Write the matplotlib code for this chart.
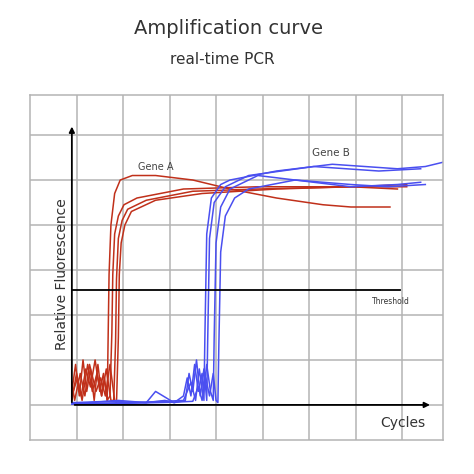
import matplotlib.pyplot as plt

# Gene A (rot) – Zyklus / Fluoreszenz
gene_a = [
    ([0, .4, .8, 1.2, 1.6, 2, 2.4, 2.8, 3.2, 3.5, 3.8, 3.9, 4.0, 4.2, 4.6, 5.2, 6.5, 9, 13, 17, 22, 27, 30, 34.2],
     [.3, .9, .2, 1.0, .3, .8, .1, .9, .2, .6, .1, 1.5, 2.9, 4.0, 4.7, 5.0, 5.1, 5.1, 5.0, 4.8, 4.6, 4.45, 4.4, 4.4]),
    ([0, .5, 1, 1.5, 2, 2.5, 3, 3.4, 3.8, 4.1, 4.3, 4.4, 4.6, 5.0, 5.6, 7, 12, 20, 30, 35],
     [.1, .7, .2, .8, .4, 1.0, .3, .7, .1, .2, 1.6, 2.9, 3.8, 4.2, 4.45, 4.6, 4.8, 4.85, 4.85, 4.8]),
    ([0, .6, 1.1, 1.7, 2.2, 2.7, 3.2, 3.7, 4.2, 4.5, 4.7, 4.8, 5.0, 5.4, 6.0, 8, 13, 20, 30, 36],
     [.2, .6, .1, .9, .3, .7, .2, .8, .1, .1, 1.4, 2.8, 3.7, 4.1, 4.35, 4.55, 4.75, 4.8, 4.85, 4.85]),
    ([0, .3, .9, 1.4, 1.9, 2.6, 3.1, 3.6, 4.1, 4.6, 4.8, 5.0, 5.1, 5.3, 5.7, 6.4, 9, 14, 22, 30, 36],
     [.5, .1, .7, .2, .9, .3, .6, .2, .9, .1, .05, 1.5, 2.9, 3.6, 4.0, 4.3, 4.55, 4.7, 4.8, 4.85, 4.9]),
]

# Gene B (blau)
gene_b = [
    ([0, 4, 8, 10, 11, 12, 12.4, 12.8, 13.2, 13.6, 14.0, 14.2, 14.3, 14.5, 15, 16, 17, 22, 28, 35, 38, 40],
     [.05, .08, .05, .1, .05, .2, .6, .2, .9, .3, .7, .1, 1.5, 3.8, 4.6, 4.9, 5.0, 5.2, 5.35, 5.25, 5.3, 5.4]),
    ([0, 5, 8, 9, 11, 12.2, 12.6, 13, 13.4, 13.8, 14.2, 14.5, 14.6, 14.8, 15.3, 16.5, 19, 26, 33, 37.5],
     [.02, .1, .05, .3, .05, .1, .7, .3, 1.0, .2, .8, .1, 1.4, 3.7, 4.5, 4.85, 5.1, 5.3, 5.2, 5.25]),
    ([0, 6, 10, 12, 12.8, 13.3, 13.7, 14.1, 14.5, 14.9, 15.2, 15.3, 15.5, 16, 17, 20, 26, 30, 35, 37.5],
     [.03, .05, .08, .1, .5, .1, .8, .2, .9, .3, .1, 1.5, 3.6, 4.4, 4.8, 5.1, 4.95, 4.85, 4.9, 4.95]),
    ([0, 7, 11, 13, 13.6, 14.0, 14.4, 14.8, 15.2, 15.5, 15.7, 15.8, 16.0, 16.5, 17.5, 19, 24, 30, 34, 38],
     [.02, .04, .06, .08, .4, .1, .6, .2, .7, .1, .05, 1.3, 3.4, 4.2, 4.6, 4.8, 5.0, 4.9, 4.85, 4.9]),
]

threshold = 2.56

fig = plt.figure(figsize=(4.74, 4.74), dpi=100)
ax = fig.add_axes([30 / 474, 34 / 474, 413 / 474, 345 / 474])
ax.set_xlim(-4.5, 39.9)
ax.set_ylim(-0.78, 6.89)

# Gitter
for gx in [0.5, 5.5, 10.5, 15.5, 20.5, 25.5, 30.5, 35.5]:
    ax.axvline(gx, color='#b4b4b4', lw=1.1, zorder=0)
for gy in range(0, 7):
    ax.axhline(gy, color='#b4b4b4', lw=1.1, zorder=0)
for s in ax.spines.values():
    s.set_color('#b4b4b4')
    s.set_linewidth(1.1)
ax.set_xticks([])
ax.set_yticks([])

for x, y in gene_a:
    ax.plot(x, y, color='#c0301a', lw=1.1)
for x, y in gene_b:
    ax.plot(x, y, color='#4a4ff0', lw=1.1)

# Achsen mit Pfeilen
ax.annotate('', xy=(0, 6.25), xytext=(0, 0),
            arrowprops=dict(arrowstyle='-|>', color='black', lw=1.3, mutation_scale=8))
ax.annotate('', xy=(38.8, 0), xytext=(0, 0),
            arrowprops=dict(arrowstyle='-|>', color='black', lw=1.3, mutation_scale=8))
ax.plot([0, 35.3], [threshold, threshold], color='black', lw=1.3)

ax.text(32.3, 2.4, 'Threshold', fontsize=5.5, color='#333333', va='top')
ax.text(9.0, 5.3, 'Gene A', fontsize=7, color='#444444', va='center', ha='center')
ax.text(27.9, 5.6, 'Gene B', fontsize=7.5, color='#444444', va='center', ha='center')
ax.text(35.6, -0.4, 'Cycles', fontsize=10, color='#333333', va='center', ha='center')
ax.text(-1.1, 2.9, 'Relative Fluorescence', fontsize=10, color='#333333',
        rotation=90, va='center', ha='center')

fig.text(228 / 474, 1 - 28 / 474, 'Amplification curve', fontsize=14, color='#333333',
         ha='center', va='center')
fig.text(222 / 474, 1 - 60 / 474, 'real-time PCR', fontsize=11, color='#333333',
         ha='center', va='center')

fig.savefig('out.png', dpi=100)
